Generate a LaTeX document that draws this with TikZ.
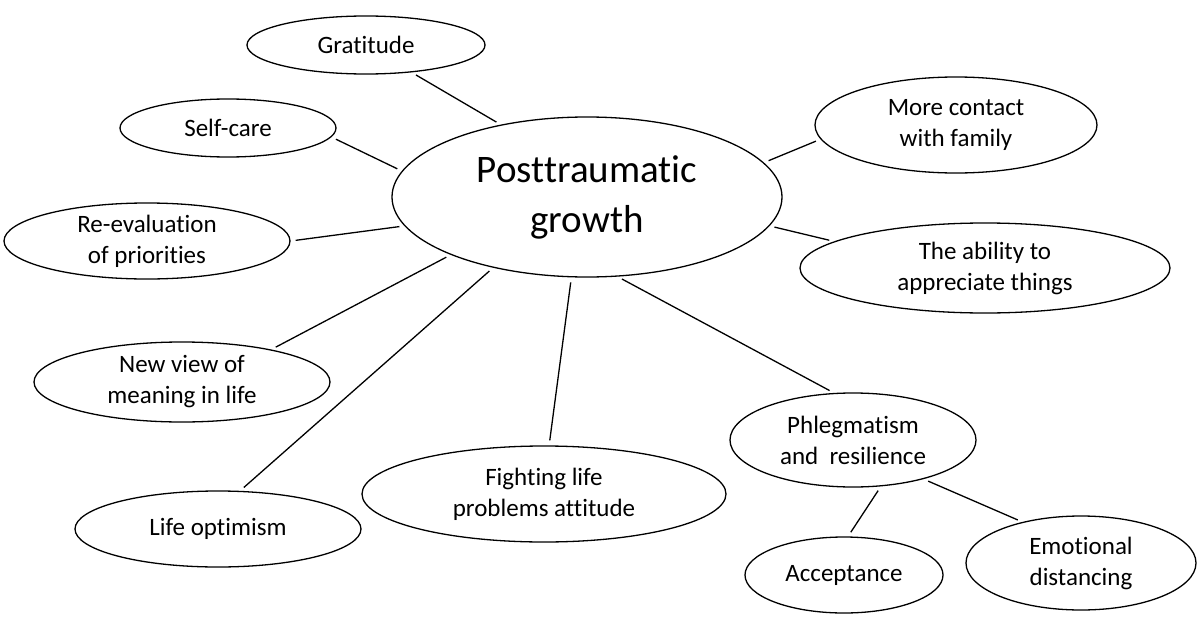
\documentclass[tikz,border=0pt]{standalone}
\usepackage{fontspec}
\setmainfont[Ligatures=NoCommon]{Carlito}
\usetikzlibrary{shapes.geometric}
\begin{document}
\begin{tikzpicture}[x=1pt,y=-1pt,
  el/.style={draw,ellipse,line width=1.3pt,inner sep=0pt,font=\fontsize{25}{31}\selectfont,align=center},
  ln/.style={line width=1.3pt,shorten <=5pt,shorten >=5pt}]
\useasboundingbox (0,0) rectangle (1200,621);
\newcommand{\E}[6]{\node[el,minimum width=#4pt,minimum height=#5pt] (#1) at (#2,#3) {#6};}
\node[el,minimum width=390pt,minimum height=160pt,font=\fontsize{39}{50}\selectfont] (pt) at (587,197) {Posttraumatic\\growth};
\E{grat}{366}{45}{238}{58}{Gratitude}
\E{self}{228}{128}{216}{58}{Self-care}
\E{reev}{147}{241}{286}{76}{Re-evaluation\\of priorities}
\E{newv}{182}{382}{296}{80}{New view of\\meaning in life}
\E{life}{218}{529}{286}{76}{Life optimism}
\E{fight}{544}{494}{364}{96}{Fighting life\\problems attitude}
\E{cont}{956}{125}{282}{96}{More contact\\with family}
\E{abil}{985}{268}{370}{90}{The ability to\\appreciate things}
\E{phl}{853}{440}{246}{94}{Phlegmatism\\and\ \ resilience}
\E{acc}{844}{575}{198}{76}{Acceptance}
\E{emo}{1081}{563}{230}{94}{Emotional\\distancing}
\draw[ln] (grat.-31) -- (pt.140);
\draw[ln] (self.-5) -- (pt.172.7);
\draw[ln] (reev.0) -- (pt.-171.6);
\draw[ln] (newv.20) -- (pt.-157);
\draw[ln] (life.60) -- (pt.-143);
\draw[ln] (fight.84) -- (pt.-101);
\draw[ln] (phl.112) -- (pt.-69);
\draw[ln] (cont.-174) -- (pt.11);
\draw[ln] (abil.170) -- (pt.-9.5);
\draw[ln] (acc.84) -- (phl.-59);
\draw[ln] (emo.145) -- (phl.-29);
\end{tikzpicture}
\end{document}
